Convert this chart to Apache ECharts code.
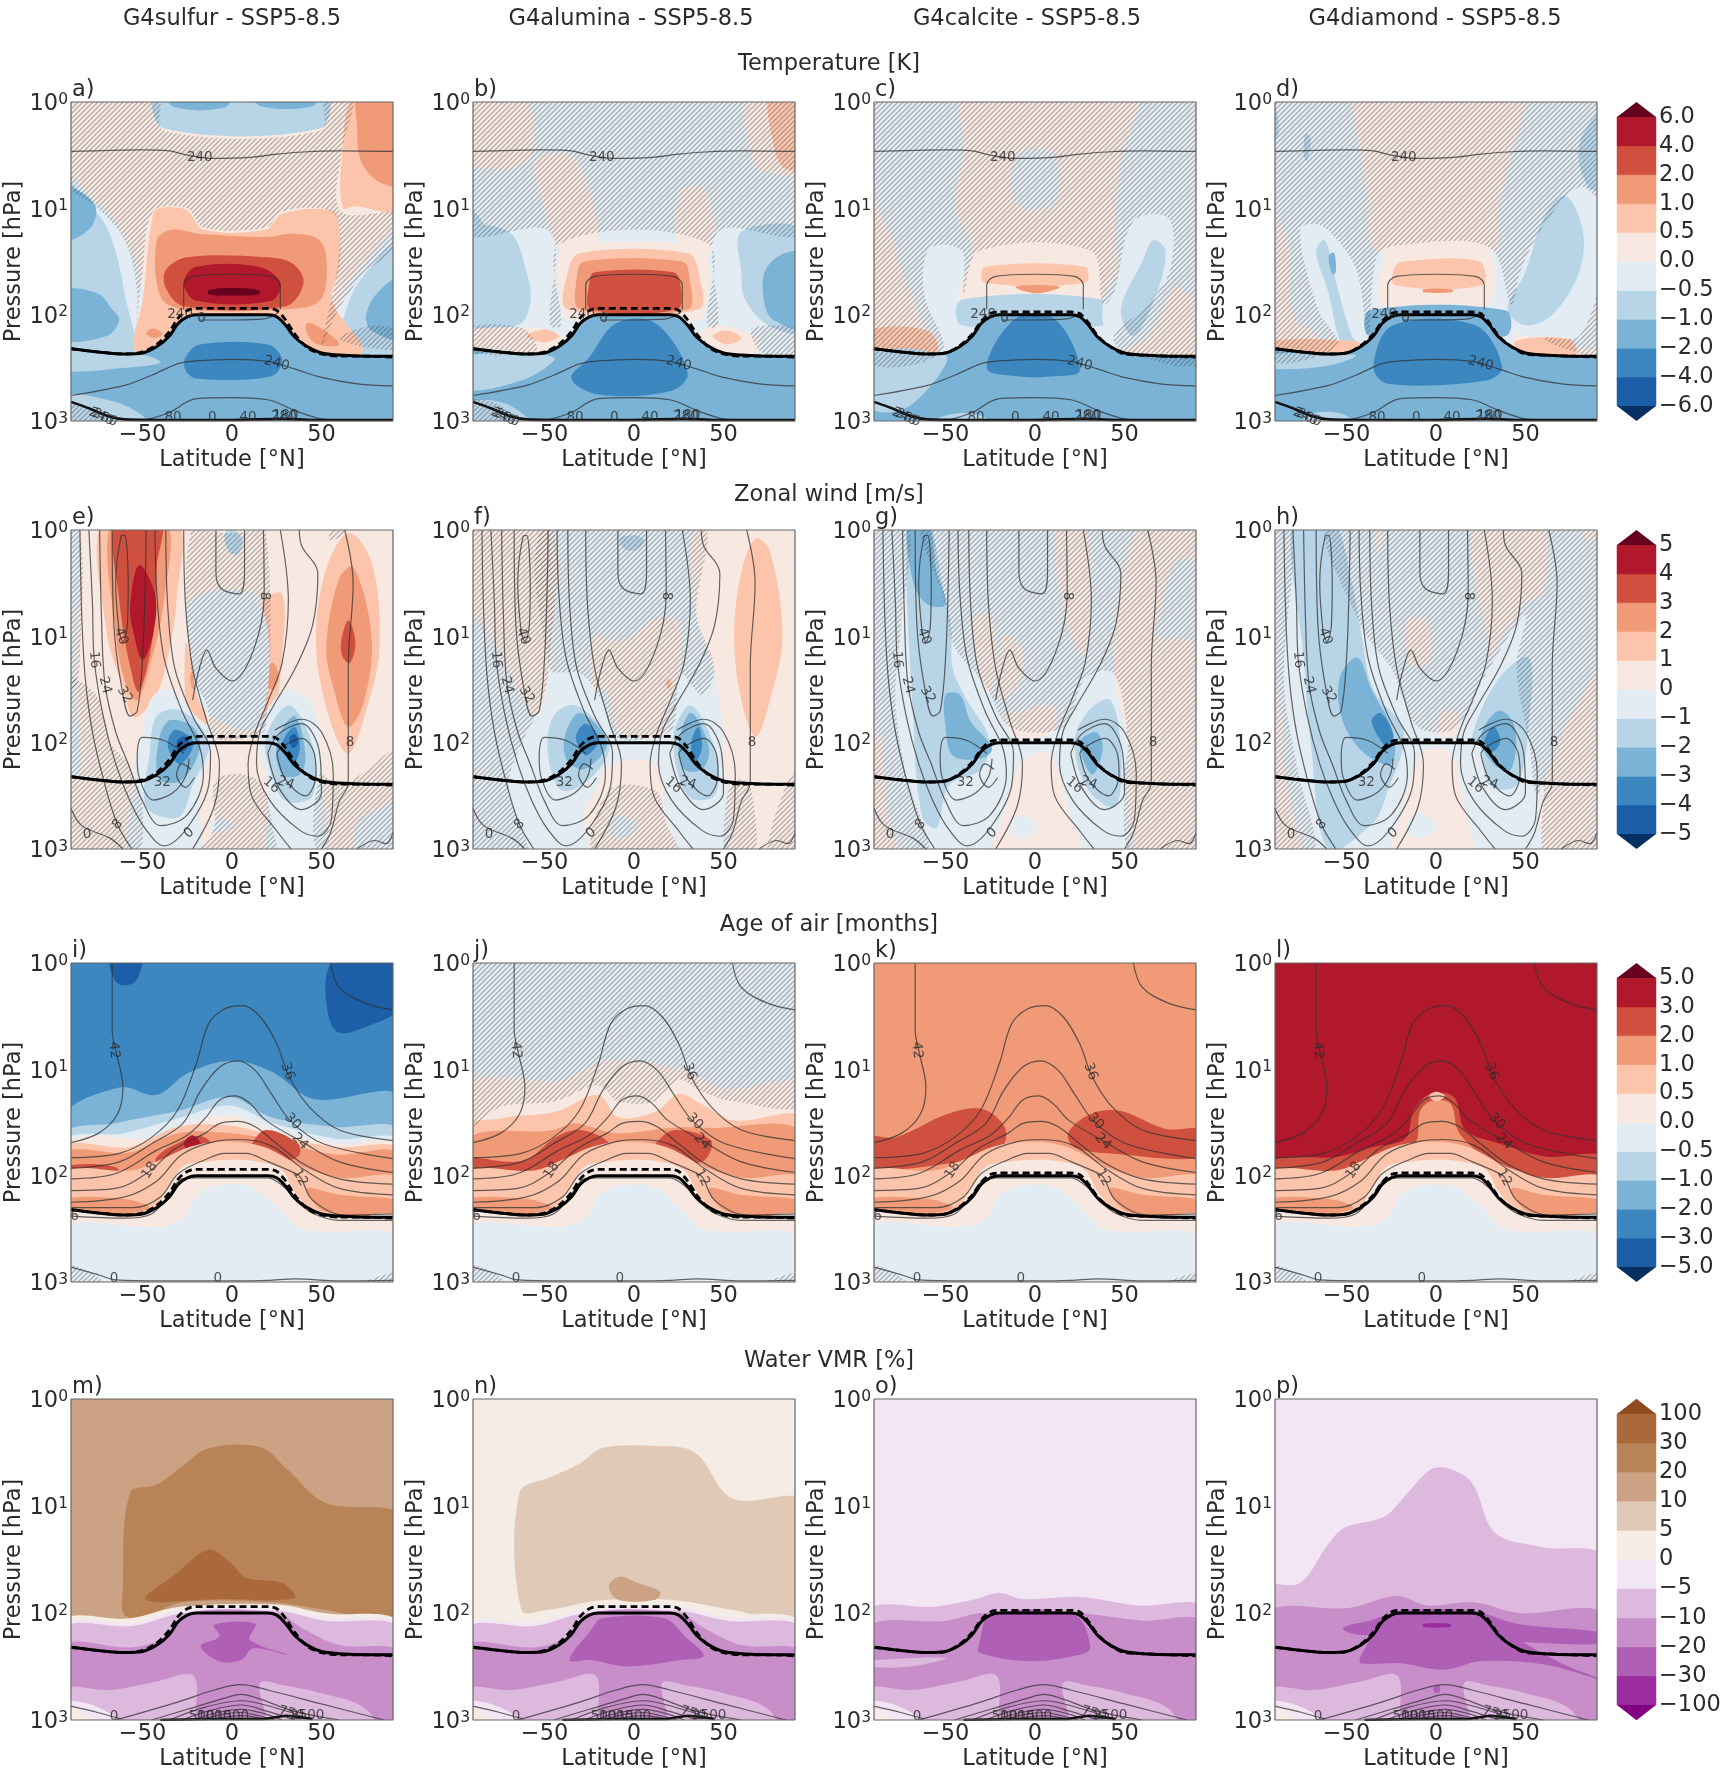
<!DOCTYPE html>
<html>
<head>
<meta charset="utf-8">
<style>html,body{margin:0;padding:0;background:#fff}#chart{width:1725px;height:1785px}</style>
<script src="https://cdn.jsdelivr.net/npm/echarts@6/dist/echarts.min.js"></script>
</head>
<body>
<div id="chart"></div>
<script>
// every outline below is a flat list: latitude, log10(pressure in hPa), latitude, log10(pressure) ...
const columnTitles = ['G4sulfur - SSP5-8.5', 'G4alumina - SSP5-8.5', 'G4calcite - SSP5-8.5', 'G4diamond - SSP5-8.5']
const rowTitles = ['Temperature [K]', 'Zonal wind [m/s]', 'Age of air [months]', 'Water VMR [%]']
const panelLetters = ['a)','b)','c)','d)','e)','f)','g)','h)','i)','j)','k)','l)','m)','n)','o)','p)']
const latTicks = [-50, 0, 50]
const pressureTicks = [1, 10, 100, 1000]

const redBlue = ['#1c5ea7','#3d87c0','#7ab3d6','#b8d5e8','#e3ecf2','#f7e9e2','#fcc5ab','#f09a77','#d0503f','#b2182b','#67001f','#053061']
const brownPurple = ['#9a2c9f','#b05fb6','#c88ec9','#deb9de','#f3e6f4','#f4ece5','#e0c9b6','#cba283','#b98358','#a9693a','#8f4b1e','#830083']
const tempTicks = ['−6.0','−4.0','−2.0','−1.0','−0.5','0.0','0.5','1.0','2.0','4.0','6.0']
const windTicks = ['−5','−4','−3','−2','−1','0','1','2','3','4','5']
const ageTicks = ['−5.0','−3.0','−2.0','−1.0','−0.5','0.0','0.5','1.0','2.0','3.0','5.0']
const waterTicks = ['−100','−30','−20','−10','−5','0','5','10','20','30','100']

const tropSolid = [-90,2.32,-75,2.35,-60,2.37,-50,2.36,-42,2.3,-35,2.2,-30,2.08,-25,2.02,-20,2,0,2,20,2,25,2.02,30,2.1,35,2.21,42,2.3,50,2.36,60,2.38,75,2.39,90,2.39]
const tropDashedHigh = [-90,2.32,-75,2.35,-60,2.37,-50,2.35,-42,2.28,-35,2.16,-30,2.03,-25,1.96,-20,1.94,0,1.94,20,1.94,25,1.96,30,2.05,35,2.18,42,2.31,50,2.37,60,2.39,75,2.39,90,2.4]
const tropDashedLow = [-90,2.32,-75,2.35,-60,2.37,-50,2.36,-42,2.29,-35,2.18,-30,2.06,-25,1.99,-20,1.975,0,1.975,20,1.975,25,1.99,30,2.08,35,2.2,42,2.3,50,2.37,60,2.38,75,2.39,90,2.4]
const below = [95,2.39,95,3.2,-95,3.2,-95,2.32]
const troposphere = tropSolid.concat(below)

// ---- temperature ----
const fillA = [
 [3,[-42,-.1,52,-.1,49,.25,-38,.25]],[2,[-38,-.1,0,-.1,-4,.05,-32,.05]],[2,[12,-.1,49,-.1,45,.04,16,.04]],
 [6,[69,-.1,95,-.1,95,1,68,.98,62,1.0,61,.6]],[7,[71,-.1,95,-.1,95,.77,82,.75,72,.55,70,.25]],
 [4,[-95,.7,-75,.95,-62,1.2,-52,1.6,-48,2,-45,2.4,-95,2.4]],[3,[-95,.75,-75,1.05,-67,1.3,-60,1.8,-56,2.4,-95,2.4]],[2,[-95,.8,-84,.85,-76,1,-80,1.2,-95,1.3]],[2,[-95,1.78,-75,1.8,-67,1.95,-63,2.05,-70,2.2,-95,2.22]],
 [4,[95,1.2,70,1.6,58,2,55,2.4,95,2.4]],[3,[95,1.3,75,1.6,65,1.9,60,2.4,95,2.4]],[2,[95,1.65,82,1.78,75,2,78,2.15,95,2.22]],
 [6,[-44,1.05,-38,.99,-25,1.02,-16,1.2,19,1.2,28,1.05,56,1.02,60,1.18,60,1.55,56,1.87,73,2.35,45,2.35,0,2.2,-45,2.35,-55,2.32,-50,1.87]],
 [7,[-42,1.3,-33,1.2,-18,1.24,19,1.27,34,1.24,49,1.3,53,1.55,49,1.87,30,1.95,-27,1.95,-40,1.83]],
 [8,[-37,1.58,-25,1.46,19,1.46,34,1.52,40,1.7,30,1.92,-27,1.92,-37,1.75]],
 [9,[-27,1.7,-20,1.55,15,1.55,27,1.7,22,1.87,-20,1.87]],[10,[-13,1.77,0,1.75,15,1.77,15,1.81,0,1.82,-13,1.81]],
 [7,[-48,2.18,-44,2.13,-39,2.18,-43,2.22]],[7,[42,2.08,50,2.13,60,2.28,48,2.28,42,2.18]],
 [2,troposphere],[3,[-95,2.35,-50,2.38,-40,2.45,-60,2.5,-95,2.52]],[3,[-95,2.78,-70,2.8,-50,2.95,-40,3.2,-95,3.2]],
 [1,[-26,2.4,-18,2.28,20,2.28,28,2.42,22,2.58,-20,2.6,-26,2.52]]
]
const hatchA = [[-95,-.1,-42,-.1,-38,.27,49,.27,52,-.1,68,-.1,61,.5,61,1.03,95,1.05,95,1.3,72,1.65,58,2,50,2.3,59,1.55,59,1.1,50,1,28,1.03,19,1.18,-16,1.18,-25,1,-44,1.03,-50,1.6,-55,2.3,-53,1.8,-60,1.3,-75,1,-95,.72],[60,2.22,73,2.3,95,2.32,95,2.18,80,2.1],[-95,2.82,-80,2.88,-70,3.1,-95,3.1]]
const fillB = [
 [5,[-95,-.1,-62,-.1,-59,.55,-95,.55]],[5,[-55,.55,-35,.5,-22,1,-22,1.4,-40,1.4,-50,1]],[5,[26,.83,40,.83,44,1.4,26,1.4]],[5,[63,-.1,95,-.1,95,.65,72,.65,66,.55]],[6,[76,-.1,95,-.1,95,.6,84,.62,78,.4]],
 [3,[-95,.95,-88,1.05,-82,1.25,-95,1.25]],
 [3,[-95,1.22,-70,1.22,-60,1.6,-58,1.9,-65,2.1,-95,2.07]],
 [5,[-95,2.17,-60,2.12,-48,2.14,-38,2.25,-42,2.4,-95,2.4]],[6,[-60,2.2,-50,2.14,-42,2.2,-50,2.26]],
 [4,[46,1.22,95,1.22,95,2.15,58,2.05,50,1.9,46,1.6]],[3,[60,1.22,95,1.22,95,2.15,75,2.1,62,1.85,60,1.6]],[2,[73,1.6,83,1.43,95,1.43,95,2.12,78,2.05,73,1.9]],
 [5,[36,2.2,45,2.1,60,2.15,70,2.25,65,2.4,40,2.4]],[6,[44,2.2,52,2.15,60,2.22,52,2.28]],
 [5,[-41,1.4,-30,1.33,32,1.33,40,1.42,42,1.8,36,2.05,-36,2.05,-42,1.8]],[6,[-37,1.6,-30,1.42,30,1.42,36,1.6,36,1.95,-37,1.95]],[7,[-32,1.65,-28,1.5,27,1.5,31,1.65,30,1.95,-30,1.95]],[8,[-25,1.7,-22,1.6,22,1.6,26,1.72,24,1.95,-24,1.95]],
 [2,troposphere],[3,[-95,2.4,-45,2.4,-60,2.6,-95,2.7]],[3,[-95,2.85,-70,2.85,-50,3.2,-95,3.2]],
 [1,[-10,2.08,12,2.08,30,2.55,20,2.72,-20,2.75,-35,2.6,-25,2.4]]
]
const hatchB = [[-95,-.1,95,-.1,95,1.22,47,1.22,47,2.1,41,2.1,41,1.33,-41,1.33,-41,2.1,-47,2.1,-47,1.22,-95,1.22],[-95,2.13,-62,2.13,-55,2.34,-95,2.34],[66,2.13,95,2.15,95,2.36,72,2.36],[-95,2.82,-75,2.85,-65,3.1,-95,3.1]]
const fillC = [
 [5,[-38,-.1,55,-.1,48,.55,45,1,40,1.9,-41,1.9,-35,1.35,-45,1,-40,.5]],[4,[-10,.5,11,.5,11,.96,-10,.96]],
 [5,[-95,.85,-82,1.2,-72,1.7,-65,2,-60,2.3,-95,2.4]],[5,[55,1.9,70,1.7,95,1.95,95,2.4,52,2.4]],[6,[-95,2.15,-60,2.15,-55,2.35,-95,2.35]],
 [4,[-59,1.4,-50,1.4,-45,1.8,-41,2.2,-47,2.3,-55,2.1,-59,1.7]],
 [5,[-30,1.45,30,1.45,30,1.97,-30,1.97]],[6,[-28,1.55,28,1.55,28,1.7,-28,1.7]],[7,[-11,1.74,1,1.72,14,1.74,1,1.8]],
 [3,[-41,1.86,38,1.86,38,2.1,-41,2.1]],
 [4,[38,1.9,55,1.35,58,1.12,75,1.12,78,1.6,70,2,60,2.25,44,2.3]],[3,[48,1.95,60,1.5,66,1.3,73,1.4,68,1.8,55,2.2]],
 [2,troposphere],[3,[-95,2.38,-50,2.38,-55,2.6,-75,2.9,-95,2.85]],[3,[-55,2.98,-30,2.95,-20,3.2,-60,3.2]],
 [1,[-11,2.04,11,2.04,25,2.52,10,2.58,-10,2.58,-27,2.5]]
]
const hatchC = [[-95,-.1,95,-.1,95,2.4,50,2.35,44,2.2,60,1.95,75,1.6,75,1.1,55,1.12,44,1.8,38,1.9,31,1.4,-31,1.4,-40,1.8,-41,1.4,-59,1.38,-62,1.8,-52,2.35,-95,2.4]]
const fillD = [
 [5,[-43,-.1,47,-.1,42,.5,35,1,32,1.4,-33,1.4,-38,.9,-42,.5]],[5,[-95,1.05,-83,1.3,-80,2,-60,2.3,-95,2.4]],[5,[42,1.95,50,1.6,60,2.2,95,2.35,50,2.35]],
 [3,[-95,0,-91,0,-88,.3,-95,.4]],[3,[-73,.3,-70,.35,-72,.55,-74,.5]],[3,[80,.4,95,.05,95,.8,85,.8]],
 [4,[-75,1.2,-65,1.15,-52,1.4,-44,1.7,-38,2.3,-55,2.25,-65,1.9]],[3,[-67,1.4,-62,1.3,-55,1.75,-47,2.2,-42,2.3,-52,2.3,-60,1.8]],[2,[-60,1.45,-57,1.42,-56,1.6,-58,1.62]],
 [4,[32,2.05,48,1.6,62,1.2,80,.85,92,1.4,95,2.1,80,2.2,60,2.2,50,2.2]],[3,[40,1.95,50,1.6,60,1.1,72,.88,82,1.2,80,1.6,65,2,50,2.1]],
 [5,[-29,1.45,-22,1.37,28,1.37,28,1.93,-29,1.93]],[6,[-23,1.55,-18,1.5,24,1.5,26,1.72,-23,1.72]],[7,[-7,1.76,9,1.76,9,1.79,-7,1.79]],
 [6,[-95,2.25,-45,2.25,-40,2.33,-95,2.35]],[6,[44,2.25,75,2.23,78,2.38,50,2.38]],
 [2,[-37,1.96,39,1.96,39,2.2,-37,2.2]],
 [2,troposphere],[3,[-95,2.38,-45,2.38,-60,2.48,-95,2.5]],[3,[-72,2.95,-50,2.95,-42,3.2,-75,3.2]],
 [1,[-24,2.1,22,2.1,37,2.49,28,2.62,-27,2.65,-35,2.49]]
]
const hatchD = [[-95,-.1,95,-.1,95,1,90,.9,80,.8,62,1.12,48,1.55,42,1.9,30,1.37,-22,1.35,-33,1.45,-38,2.2,-44,1.6,-55,1.3,-66,1.15,-76,1.2,-66,1.95,-55,2.3,-95,2.38],[60,2.22,78,2.35,95,2.38,95,1.6,80,2.2]]

// ---- zonal wind ----
const fillE = [
 [4,[-95,0,-85,0,-88,1.4,-85,2.3,-95,2.3]],
 [6,[-72,-.1,-31,-.1,-31,.66,-37,1.28,-44,1.6,-55,1.76,-61,1.47,-70,.97]],[7,[-67,-.1,-37,-.1,-38,.66,-46,1.28,-53,1.6,-59,1.47,-65,.97]],[8,[-65,-.1,-40,-.1,-42,.34,-44,.97,-52,1.52,-57,1.28,-63,.66]],[9,[-57,.72,-52,.33,-43,.6,-44,.97,-50,1.22,-55,.97]],
 [6,[-26,1.05,-22,1.3,-14,1.85,-24,1.85]],[7,[-23,1.35,-19,1.35,-18,1.49,-22,1.49]],
 [6,[17,.7,28,.6,28,1.2,22,1.9,17,1.9]],[7,[19,1.32,23,1.25,26,1.38,23,1.5,19,1.45]],
 [6,[47,1.1,52,.4,65,.03,78,.3,82.5,1.1,75,1.7,65,2.1,55,1.8]],[7,[52.7,1.1,60,.45,68,.35,78,1,74,1.6,65,1.85,57,1.5]],[8,[61,1.05,65,.85,69,1.05,66,1.25,62,1.2]],
 [3,[-4,.03,1,0,6,.1,3,.23,-2,.2]],
 [4,[-23,.65,15,.65,15,1.85,-15,1.7,-23,1.1]],
 [4,[-55,2.35,-50,1.9,-45,1.58,-35,1.5,-20,1.75,-10,1.95,-18,2.4,-20,3.2,-55,3.2]],[3,[-46,2.1,-42,1.75,-28,1.7,-13,2,-22,2.4,-30,2.7,-48,2.6]],[2,[-42,2.1,-36,1.8,-22,1.85,-18,2.05,-28,2.35,-40,2.35]],[1,[-36,2.02,-32,1.88,-22,1.98,-24,2.12,-30,2.2]],[0,[-31,2,-27,1.94,-24,2,-27,2.08]],
 [4,[15,1.9,30,1.5,45,1.65,50,2.3,50,3.2,22,3.2,20,2.4]],[3,[19,1.95,32,1.65,45,2.02,45,2.5,30,2.55,22,2.3]],[2,[25,2,35,1.75,41,2.1,38,2.3,28,2.3]],[1,[28.5,2,35,1.85,38,2.05,34,2.2]],[0,[32,1.96,35,1.92,37,2,34,2.05]],
 [4,[-12.5,2.75,-6,2.72,.5,2.78,-5,2.84,-12,2.82]],
 [4,[70,2.75,85,2.6,95,2.5,95,3.2,72,3.2]]
]
const hatchE = [[-95,0,-85,0,-85,1.2,-88,1.5,-95,1.4],[-95,1.4,-76,1.55,-68,2,-58,2.2,-50,2.6,-55,3.1,-95,3.1],[-23,.03,-4,.03,6,.02,19,.03,19,1.85,10,1.95,-10,1.95,-14,1.65,-23,1.3],[-9,2.35,14,2.35,24,2.9,24,3.1,-20,3.1,-10,2.8],[49,2.3,60,2.4,72,2.3,95,2.05,95,3.1,50,3.1],[55,0,60,-.1,65,0,55,.1]]
const fillF = [
 [5,[-95,-.1,-48,-.1,-47,1.2,-53,1.75,-62,1.6,-80,1,-95,.6]],[5,[-95,2.3,-75,2.35,-65,2.7,-60,3.2,-95,3.2]],
 [5,[37,-.1,95,-.1,95,3.2,52,3.2,50,2,45,1.35,35,.8]],[5,[-22,1,-6,1.05,10,.85,24,.85,26,1.3,22,1.9,-8,1.9,-15,1.5,-23,1.5]],
 [5,[-35,2.5,-12,2.2,12,2.2,18,2.7,25,3.2,-22,3.2]],
 [6,[56,1,60,.4,68,.08,76,.2,83,1,76,1.6,68,1.94,60,1.6]],[6,[18,1.42,20,1.4,21,1.45,19,1.5]],
 [3,[-8,.08,0,.05,6,.1,1,.19,-6,.17]],
 [4,[-55,2.2,-52,1.7,-37,1.35,-25,1.6,-14,1.88,-20,2.4,-28,2.65,-25,3.2,-55,3.2,-85,3.2,-95,2.3,-80,2.3]],
 [3,[-48,2.12,-45,1.75,-32,1.65,-14,2,-22,2.3,-40,2.45]],[2,[-38,1.9,-30,1.72,-15,2,-28,2.25,-38,2.15]],[1,[-32.5,1.95,-27,1.82,-19.6,1.97,-27,2.12]],
 [4,[17,1.9,28,1.35,38,1.6,50,2.2,50,3.2,28,3.1,18,2.5]],[3,[22,1.95,32,1.65,46,2.1,45,2.5,30,2.5]],[2,[25,2,32,1.72,42,2.05,38,2.25,28,2.25]],[1,[32,2,36,1.85,38,2.05,34,2.18]],
 [4,[-14,2.75,-8,2.68,2,2.78,-3,2.88,-12,2.88]]
]
const hatchF = [[-95,-.1,-48,-.1,-47,1.2,-53,1.7,-60,1.9,-70,2.4,-60,3.1,-95,3.1],[-48,-.1,37,-.1,35,.8,45,1.3,38,1.55,26,1.35,22,1.85,10,1.95,-10,1.95,-18,1.6,-30,1.35,-47,1.3],[-14,2.45,12,2.45,18,2.75,25,3.1,-22,3.1],[52,2.5,58,2.35,65,2.4,67,3.1,52,3.1],[85,2.4,95,2.2,95,3.1,75,3.1]]
const fillG = [
 [5,[-38,.9,-25,.8,-22,1.3,-25,1.5,-38,1.5]],[5,[12,0,28,.0,32,.5,30,1,28,1.2,18,.9]],[5,[-18,1,-8,1.1,-8,1.4,-20,1.6]],[5,[48,.5,62,-.1,95,-.1,95,.25,78,.3,70,.8,68,1,95,1.1,95,3.2,55,3.2,52,2,44,1.35]],
 [5,[-95,1.9,-85,2,-75,2.8,-72,3.2,-95,3.2]],[5,[-8,2.2,8,2.1,20,2.7,30,3.2,-25,3.2,-18,2.7]],[5,[-18,1.75,-8,1.7,10,1.65,10,1.9,-12,1.95]],
 [4,[-88,-.1,-72,-.1,-38,.3,-35,.9,-28,1.5,-14,1.9,-25,2.4,-35,3.2,-65,3.2,-82,2.7,-84,1.3]],
 [3,[-71,-.1,-60,-.1,-52,.5,-47,.9,-46,1.3,-38,1.6,-26,1.95,-30,2.25,-48,2.4,-55,2.8,-63,2.7,-68,1.8]],
 [2,[-71,-.1,-60,-.1,-55,.4,-50,.7,-60,.7,-68,.5]],[2,[-50,1.55,-42,1.55,-36,1.8,-24,2.05,-30,2.15,-46,2.12,-50,1.85]],
 [4,[16,1.9,28,1.4,40,1.35,50,2.1,50,2.5,55,3.2,30,3.1,20,2.4]],[3,[22,2,30,1.7,42,1.6,48,2.05,45,2.6,30,2.45]],[2,[25,2,34,1.9,38,2.05,32,2.3]],
 [4,[-14,2.75,-8,2.68,2,2.78,-3,2.88,-12,2.88]]
]
const hatchG = [[-95,-.1,-71,-.1,-75,.9,-78,1.6,-72,2.3,-60,3.1,-95,3.1],[-60,-.1,95,-.1,95,3.1,55,3.1,50,2.3,52,2,44,1.35,28,1.4,16,1.85,-14,1.85,-28,1.45,-45,1.1,-50,.7]]
const fillH = [
 [5,[-40,0,-30,0,-32,.2,-40,.2]],[5,[22,.0,45,-.1,60,-.1,60,.6,48,.7,42,1.1,30,1.5,28,1,22,.5]],[5,[-16,.85,-5,.85,-4,1.25,-15,1.25]],[5,[-18,1.75,-10,1.7,-10,1.95,-18,1.95]],[5,[2,1.75,12,1.7,12,1.9,2,1.95]],
 [5,[80,-.1,95,-.1,95,.05,85,.1]],[5,[-95,1.5,-85,1.6,-78,2.5,-62,3.2,-95,3.2]],[5,[-8,2.1,8,2.1,20,2.7,30,3.2,-30,3.2,-20,2.7]],[5,[62,2.3,95,1.3,95,3.2,62,3.2]],
 [4,[-92,-.1,-40,-.1,-33,.4,-42,.9,-24,1.3,-14,1.6,-8,1.9,-25,2.4,-28,3.2,-65,3.2,-82,2.5,-88,1.4]],
 [3,[-80,-.1,-58,-.1,-47,.5,-42,.95,-35,1.5,-18,1.9,-28,2.5,-35,2.75,-60,3,-70,2,-74,1.2]],
 [2,[-54,1.4,-44,1.2,-36,1.5,-24,1.9,-25,2.2,-40,2.1,-52,1.8]],[1,[-36,1.8,-31,1.72,-24,1.92,-27,2.05]],
 [4,[12,1.9,22,1.6,30,1.2,48,.8,46,1.4,52,2.2,56,2.6,58,3.2,30,3.2,15,2.5]],[3,[20,1.95,35,1.4,52,1.2,52,1.8,45,2.4,30,2.4,25,2.05]],[2,[25,1.95,35,1.7,44,1.85,42,2.25,32,2.2]],[1,[27,2,32,1.85,36,1.98,32,2.08]],
 [4,[-16,2.75,-8,2.66,1,2.8,-5,2.88,-14,2.88]]
]
const hatchH = [[-95,-.1,-80,-.1,-85,1.4,-78,2.2,-68,3.1,-95,3.1],[-58,-.1,95,-.1,95,3.1,62,3.1,60,2.4,56,2.5,52,2,45,1.3,50,.8,28,1.35,12,1.85,-10,1.85,-25,1.3,-42,.9]]

// ---- age of air ----
const ageUpperI = [
 [0,[-68,-.1,-51,-.1,-53,.15,-60,.21,-66,.15]],[0,[54,.04,65,-.1,95,-.1,95,.4,75,.6,59,.65,53,.41]],
 [2,[-95,1.48,-63,1.17,-42,1.24,-25,1.04,-1,.92,22,1.02,46,1.28,95,1.28,95,3.2,-95,3.2]],
 [3,[-95,1.64,-63,1.5,-30,1.39,-1,1.26,22,1.45,57,1.54,95,1.6,95,3.2,-95,3.2]],
 [4,[-95,1.7,-60,1.6,-30,1.46,-1,1.34,22,1.5,57,1.65,95,1.7,95,3.2,-95,3.2]],
 [5,[-95,1.73,-42,1.64,-22,1.5,-1,1.43,22,1.57,60,1.7,95,1.73,95,3.2,-95,3.2]],
 [6,[-95,1.76,-57,1.73,-30,1.54,-1,1.53,19,1.6,57,1.73,95,1.78,95,3.2,-95,3.2]],
 [7,[-95,1.82,-57,1.78,-30,1.6,-1,1.6,19,1.65,57,1.8,95,1.82,95,3.2,-95,3.2]],
 [8,[-95,1.92,-65,1.92,-64,2.06,-95,2.06]],[8,[-42,1.82,-31,1.7,-17,1.63,-10,1.76,-22,1.87,-42,1.9]],[8,[10,1.73,19,1.57,37,1.7,37,1.82,22,1.87,10,1.82]],[9,[-27,1.7,-22,1.62,-17,1.72,-22,1.8]]
]
const ageUpperJ = [
 [5,[-95,1.18,-40,1.1,-14,.92,27,1.0,50,1.18,95,1.18,95,3.2,-95,3.2]],
 [6,[-95,1.57,-74,1.46,-44,1.4,-20,1.24,-9,1.45,12,1.4,25,1.23,37,1.32,55,1.48,95,1.48,95,3.2,-95,3.2]],
 [7,[-95,1.7,-45,1.57,-33,1.51,-10,1.6,22,1.55,40,1.55,95,1.62,95,3.2,-95,3.2]],
 [8,[-95,1.84,-62,1.86,-44,1.64,-30,1.57,-14,1.7,-24,1.86,-62,1.98,-95,2.01]],[8,[12,1.7,23,1.57,43,1.67,39,1.86,23,1.88,12,1.8]]
]
const ageUpperK = [
 [8,[-95,1.64,-78,1.64,-49,1.42,-30,1.37,-17,1.54,-18.5,1.73,-39,1.86,-95,1.92]],[8,[18.5,1.6,31,1.42,47.5,1.39,73,1.56,95,1.57,95,1.82,41,1.79,22,1.73]]
]
const ageUpperL = [
 [8,[-95,1.92,-54,1.82,-35,1.73,-17,1.65,-12.6,1.39,-3,1.23,10,1.26,16.5,1.57,36,1.7,61,1.82,95,1.86,95,3.2,-95,3.2]],
 [7,[-40,1.95,-12,1.7,-9,1.4,-3,1.3,8,1.32,13,1.6,30,1.85,50,2.0,-20,2.2]],[6,[-4,1.25,0,1.21,5,1.25,0,1.3]]
]
const ageLower = [
 [6,[-95,2,-55,1.95,-40,1.85,-22,1.72,0,1.68,18,1.73,40,1.92,60,2.02,95,2.05,95,3.2,-95,3.2]],
 [7,[-95,2.22,-60,2.22,-46,2.3,-60,2.36,-95,2.34]],[7,[42,2.12,60,2.18,95,2.24,95,2.36,52,2.34]],
 [5,[-95,2.38,-60,2.39,-45,2.33,-35,2.1,-28,1.92,-15,1.87,0,1.85,15,1.87,28,1.95,35,2.15,45,2.33,60,2.4,95,2.4,95,3.2,-95,3.2]],
 [4,[-95,2.5,-40,2.48,-27,2.39,-19,2.17,-10,2.1,10,2.1,25,2.29,40,2.51,95,2.58,95,3.2,-95,3.2]]
]
const fillI = ageUpperI.concat(ageLower)
const fillJ = ageUpperJ.concat(ageLower)
const fillK = ageUpperK.concat(ageLower)
const fillL = ageUpperL.concat(ageLower)
const hatchAgeBottom = [[-95,2.85,-80,2.9,-68,3.1,-95,3.1],[62,3.1,80,2.96,95,2.92,95,3.1]]
const hatchJ = hatchAgeBottom.concat([[-95,-.1,95,-.1,95,1.3,55,1.3,37,1.2,25,1.1,12,1.3,-9,1.3,-20,1.15,-44,1.3,-74,1.35,-95,1.55]])

// ---- water vapour ----
const waterBottom = [
 [3,[-95,2.72,-68,2.72,-42,2.64,-22,2.58,-20,2.85,-25,3.2,-95,3.2]],
 [3,[16,2.65,30,2.68,50,2.75,75,2.9,82,3.2,25,3.2,18,2.9]],
 [4,[-95,2.84,-70,2.92,-55,3.2,-95,3.2]],[5,[-95,2.88,-82,2.95,-72,3.2,-95,3.2]]
]
const waterBand = [
 [5,[-95,2.09,-57,2.05,-28,1.94,25,1.92,51,2,95,2.11,95,3.2,-95,3.2]],
 [4,[-95,2.13,-55,2.09,-27,1.97,25,1.95,51,2.04,95,2.13,95,3.2,-95,3.2]],
 [3,[-95,2.16,-55,2.12,-27,2,25,1.98,51,2.07,95,2.16,95,3.2,-95,3.2]],
 [2,[-95,2.32,-55,2.32,-35,2.2,-25,2,25,2,40,2.15,60,2.3,95,2.38,95,3.2,-95,3.2]]
]
const fillM = [
 [8,[-60,2.02,-61,1.75,-57,.88,-42,.8,-28,.63,-13,.46,16,.45,31,.66,52,.97,95,1.1,95,2.05,52,1.97,22,1.9,-28,1.9,-48,2.03]],
 [9,[-48,1.875,-31,1.63,-13,1.41,-1,1.53,8,1.67,28,1.72,35,1.86,-7,1.87]]
].concat(waterBand,[[1,[-10,2.11,13,2.1,10,2.25,31,2.39,12,2.33,5,2.44,-7,2.45,-17.5,2.31,-7,2.22]]],waterBottom)
const fillN = [
 [6,[-63,1.97,-64,.88,-45,.72,-30,.6,-18,.46,11,.44,34,.5,55,.93,95,.96,95,2.06,55,1.97,23,1.88,-18,1.88,-48,1.97]],
 [7,[-14,1.75,-8,1.66,2,1.72,14.5,1.8,12,1.875,-9,1.875]]
].concat(waterBand,[[1,[-36,2.44,-24,2.16,-18,2.05,17,2.05,28.5,2.22,39,2.4,26,2.44,-4,2.5,-24,2.44]]],waterBottom)
const fillO = [
 [3,[-95,2,-55,1.94,-33,1.87,-20,1.81,-7,1.87,25,1.85,57,1.93,95,1.97,95,3.2,-95,3.2]],
 [2,[-95,2.16,-49,2.07,-30,2,22,2,60,2.07,95,2.1,95,3.2,-95,3.2]],
 [1,[-31,2.28,-25,2.02,22,2.02,31,2.32,25,2.39,-4,2.45,-31,2.37]],
 [3,[-95,2.5,-70,2.5,-50,2.42,-95,2.45]]
].concat(waterBottom)
const fillP = [
 [3,[-95,1.77,-76,1.72,-60,1.35,-51,1.2,-29,1.1,-16,.88,-3,.66,7,.65,20,.78,33,1.25,58,1.38,95,1.5,95,3.2,-95,3.2]],
 [2,[-95,2.02,-48,1.95,-22,1.84,-5,1.93,21,1.9,46,2,95,2.03,95,3.2,-95,3.2]],
 [1,[-52,2.14,-35,2.06,-20,1.98,20,1.98,45,2.1,95,2.19,95,2.28,60,2.28,-20,2.2,-45,2.2]],
 [1,[-42,2.4,-28,2.1,21,2.02,43,2.22,70,2.47,95,2.64,60,2.48,25,2.45,4,2.53,-20,2.47,-42,2.47]],
 [0,[-7,2.1,8,2.1,8,2.13,-7,2.13]],[1,[-1,2.68,2,2.68,2,2.74,-1,2.74]]
].concat(waterBottom)

// contours, same climatology in every column of a row
const tempContours = [
 [-90,.465,-50,.45,-35,.46,-25,.5,-10,.53,10,.52,25,.49,40,.47,60,.46,90,.465],
 [-90,2.76,-60,2.665,-45,2.57,-30,2.46,-20,2.435,0,2.42,20,2.44,35,2.51,50,2.59,70,2.65,90,2.67],
 [-47,2.985,-35,2.92,-20,2.79,0,2.78,20,2.8,35,2.9,50,2.98,60,2.99],
 [-27,1.95,-27,1.72,-22,1.64,0,1.62,22,1.64,27,1.72,27,1.95],
 [-18,2.05,0,2.05,18,2.04,26,1.98]
]
const tempThick = [-90,2.82,-80,2.88,-70,2.95,-60,2.985,-40,2.99,0,2.99,28,2.98,45,2.99,90,2.99]
const windContours = [
 [-90,2.62,-84,2.78,-68,2.9,-61,3],
 [-85,0,-84,.8,-82,1.4,-78,1.9,-71,2.4,-64,2.77,-56,3],
 [-80,0,-78,.7,-77,1.22,-72,1.75,-65,2.2,-57,2.55,-48,2.82,-38,2.97,-25,2.8,-13,2.4,-12,2.1,-22,1.75,-32,1.3,-36,.7,-37,0],
 [-74,0,-73,.8,-71,1.45,-65,1.9,-58,2.2,-50,2.55,-40,2.78,-25,2.68,-16,2.3,-18,2.05,-28,1.7,-38,1.2,-42,.6,-43,0],
 [-67,0,-66,.9,-62,1.45,-57,1.75,-53,1.7,-50,1.2,-48.5,.5,-48,0],
 [-63,.97,-65,.5,-62,.06,-60,.05,-58,.5,-58.5,.9,-61,1.05,-63,.97],
 [-27,2.1,-38,1.98,-50,1.95,-53,2.15,-52,2.32,-44,2.54,-33,2.47,-26,2.32,-24,2.15],
 [-23,2.25,-28,2.2,-31,2.3,-26,2.42,-21,2.33],
 [-27,0,-26,.7,-22,1.3,-14,1.8,-7,2.2,-10,2.6,-22,3],
 [-9,0,-9,.4,-6,.55,4,.6,7,.4,7,0],
 [17.6,0,18,.6,12,1.13,0,1.42,-9,1.3,-14,1.13,-19,1.35,-22,1.6],
 [27,0,31.5,.66,28,1.25,20.4,1.6,13,1.9,9,2.2,11,2.5,25.5,2.84,33,3],
 [37.6,0,39,.15,48,.41,45,.9,36,1.28,23,1.66,15.6,1.9,13.7,2.2,21,2.54,37.6,2.82,48,2.88,55.6,2.72,56.6,2.29,50,1.9,39,1.78,24,1.88],
 [20,2.1,26,2.42,39,2.63,50,2.47,49,2.1,39,1.82,26,1.92,20,2.1],
 [25,2.1,30,2.35,41,2.5,47,2.3,46,2.1,39,1.96,28,2.04,25,2.1],
 [63,0,67.7,.5,65,1.28,65,1.9,65,2.38,60,2.55,55,2.85,50,3],
 [70,3,80,2.92,86,2.95,90,2.85]
]
const ageContours = [
 [-67,0,-67,.63,-65,.82,-61,1.17,-64,1.42,-74.5,1.6,-90,1.69],
 [55,0,60,.23,75,.38,90,.44],
 [-90,1.83,-63,1.79,-45,1.64,-30.6,1.39,-20,.95,-13,.57,-4,.43,6,.4,16,.51,25,.76,32,1.07,43,1.35,60,1.57,90,1.67],
 [-90,1.93,-63,1.87,-45,1.7,-27.6,1.51,-17.5,1.2,-7,.98,3,.92,13,1.01,22,1.23,33,1.49,51,1.7,90,1.84],
 [-90,2.03,-65,1.98,-42,1.76,-25,1.62,-14.5,1.45,-7,1.29,2,1.25,10,1.32,19,1.48,39,1.68,60,1.87,90,1.97],
 [-90,2.14,-65,2.12,-47,1.97,-32,1.75,-15,1.6,-7,1.51,3,1.49,13,1.54,25,1.7,40,1.89,60,2.03,90,2.08],
 [-90,2.25,-60,2.2,-42,2.05,-28,1.8,-10,1.68,4,1.66,22,1.72,40,1.94,60,2.12,90,2.18],
 [-90,2.3,-55,2.3,-40,2.2,-30,1.98,-15,1.85,-4,1.79,8,1.79,19,1.86,33,1.96,38,2.01,45,2.23,63,2.37,90,2.36],
 [-90,2.38,-60,2.4,-45,2.36,-36,2.2,-28,2.03,-20,2.02,20,2.02,30,2.12,36,2.24,46,2.36,60,2.42,90,2.42],
 [-90,2.86,-75,2.93,-65,2.98,-40,2.99,0,2.99,20,2.985,35,2.97,60,2.99,90,2.985]
]
const waterContours = [
 [-90,2.87,-75,2.93,-62,2.99],
 [-65,3,-30,2.83,-10,2.72,5,2.67,20,2.72,50,2.85,85,3],
 [-45,3,-25,2.9,-5,2.8,5,2.76,15,2.8,35,2.92,60,3],
 [-35,3,-15,2.88,5,2.82,25,2.89,45,3],
 [-28,3,-12,2.91,5,2.86,20,2.92,35,3],
 [-22,3,-8,2.93,5,2.9,18,2.94,28,3],
 [-18,3,-6,2.95,5,2.93,15,2.96,24,3],
 [-14,3,-3,2.97,5,2.96,12,2.97,20,3]
]
const waterThick = [-40,3,-12,2.99,0,2.99,18,2.99,30,2.96,45,2.99]
// label, lat, log10(p), rotation
const tempLabels = [['240',-18,.52,0],['240',25,2.46,-15],['0',-17,2.04,0],['240',-29,2,0],['240',-73,2.96,-25],['200',-71,2.97,-25],['80',-33,2.97,0],['0',-11,2.97,0],['40',9,2.97,0],['280',29,2.96,0],['180',30,2.95,0]]
const windLabels = [['40',-62,1,-70],['16',-77,1.22,-85],['24',-71,1.46,-75],['32',-60,1.55,-60],['8',18,.62,-90],['8',66,2,0],['0',-81,2.86,0],['0',-24,2.85,40],['8',-64,2.77,45],['32',-39,2.37,0],['16',22,2.4,-40],['24',30,2.38,-20]]
const ageLabels = [['42',-66,.82,-85],['36',31,1.02,-70],['30',34,1.49,-45],['24',38,1.68,-45],['18',-46,1.95,55],['12',38,2.02,-60],['6',-88,2.38,0],['0',-66,2.97,0],['0',-8,2.97,0]]
const waterLabels = [['0',-66,2.97,0],['500',-17,2.97,0],['1000',-10,2.97,0],['1500',0,2.97,0],['750',33,2.94,-15],['2500',42,2.96,0]]

const panels = [
 {base:5,fill:fillA,hatch:hatchA,dash:tropDashedHigh},{base:4,fill:fillB,hatch:hatchB,dash:tropDashedHigh},{base:4,fill:fillC,hatch:hatchC,dash:tropDashedLow},{base:4,fill:fillD,hatch:hatchD,dash:tropDashedLow},
 {base:5,fill:fillE,hatch:hatchE,dash:tropDashedHigh},{base:4,fill:fillF,hatch:hatchF,dash:tropDashedHigh},{base:4,fill:fillG,hatch:hatchG,dash:tropDashedLow},{base:4,fill:fillH,hatch:hatchH,dash:tropDashedLow},
 {base:1,fill:fillI,hatch:hatchAgeBottom,dash:tropDashedHigh},{base:4,fill:fillJ,hatch:hatchJ,dash:tropDashedHigh},{base:7,fill:fillK,hatch:hatchAgeBottom,dash:tropDashedLow},{base:9,fill:fillL,hatch:hatchAgeBottom,dash:tropDashedLow},
 {base:7,fill:fillM,hatch:[],dash:tropDashedHigh},{base:5,fill:fillN,hatch:[],dash:tropDashedHigh},{base:4,fill:fillO,hatch:[],dash:tropDashedLow},{base:4,fill:fillP,hatch:[],dash:tropDashedLow}
]
const rows = [
 {palette:redBlue,ticks:tempTicks,contours:tempContours,thick:tempThick,labels:tempLabels},
 {palette:redBlue,ticks:windTicks,contours:windContours,thick:null,labels:windLabels},
 {palette:redBlue,ticks:ageTicks,contours:ageContours,thick:null,labels:ageLabels},
 {palette:brownPurple,ticks:waterTicks,contours:waterContours,thick:waterThick,labels:waterLabels}
]

const colX = [71, 473, 874, 1275]
const rowY = [102, 530, 963, 1399]
const panelW = 322, panelH = 319
const textColor = '#2b2b2b'
const fontFamily = '"DejaVu Sans", sans-serif'
const fontSize = 22.5

function toPoints(flat) {
  let out = []
  for (let i = 0; i < flat.length; i += 2) out.push([flat[i], Math.pow(10, flat[i + 1])])
  return out
}

function hatchPattern() {
  let size = 5
  let c = document.createElement('canvas')
  c.width = size
  c.height = size
  let ctx = c.getContext('2d')
  ctx.strokeStyle = 'rgba(60,65,70,0.42)'
  ctx.lineWidth = 1.1
  ctx.beginPath()
  ctx.moveTo(-1, size + 1)
  ctx.lineTo(size + 1, -1)
  ctx.moveTo(-1, 1)
  ctx.lineTo(1, -1)
  ctx.moveTo(size - 1, size + 1)
  ctx.lineTo(size + 1, size - 1)
  ctx.stroke()
  return {image: c, repeat: 'repeat'}
}
const hatchFill = hatchPattern()

let grid = [], xAxis = [], yAxis = [], series = [], title = []

columnTitles.forEach((t, i) => {
  title.push({text: t, left: colX[i] + [161, 158, 153, 160][i], top: 8, padding: 0, textAlign: 'center', textStyle: {fontSize, fontWeight: 'normal', color: textColor, fontFamily}})
})
rowTitles.forEach((t, i) => {
  title.push({text: t, left: 829, top: rowY[i] - [49, 46, 49, 49][i], padding: 0, textAlign: 'center', textStyle: {fontSize, fontWeight: 'normal', color: textColor, fontFamily}})
})

panels.forEach((panel, n) => {
  let r = Math.floor(n / 4), c = n % 4
  let row = rows[r]
  let left = colX[c], top = rowY[r]
  let idx = grid.length
  grid.push({left, top, width: panelW, height: panelH + (r === 3 ? 2 : 0), show: true, backgroundColor: row.palette[panel.base], borderWidth: 0})
  xAxis.push({
    type: 'value', gridIndex: idx, min: -90, max: 90, splitLine: {show: false},
    name: 'Latitude [°N]', nameLocation: 'middle', nameGap: 28,
    nameTextStyle: {fontSize, color: textColor, fontFamily},
    axisLine: {show: false}, axisTick: {show: false},
    axisLabel: {customValues: latTicks, margin: 3, fontSize, color: textColor, fontFamily, formatter: v => String(v).replace('-', '−')}
  })
  yAxis.push({
    type: 'log', logBase: 10, gridIndex: idx, inverse: true, min: 1, max: 1000, splitLine: {show: false},
    name: 'Pressure [hPa]', nameLocation: 'middle', nameGap: 42,
    nameTextStyle: {fontSize, color: textColor, fontFamily},
    axisLine: {show: false}, axisTick: {show: false}, minorTick: {show: false},
    axisLabel: {
      customValues: pressureTicks, margin: 3, color: textColor, fontFamily, padding: [5, 0, 0, 0],
      formatter: v => '{b|10}{s|' + Math.round(Math.log10(v)) + '}',
      rich: {b: {fontSize, color: textColor, fontFamily, lineHeight: 26}, s: {fontSize: 15.5, color: textColor, fontFamily, verticalAlign: 'top', lineHeight: 18}}
    }
  })
  title.push({text: panelLetters[n], left: left + 1, top: top - 23, padding: 0, textStyle: {fontSize, fontWeight: 'normal', color: textColor, fontFamily}})

  let shapes = panel.fill.map(f => ({points: f[1], fill: row.palette[f[0]]}))
    .concat(panel.hatch.map(h => ({points: h, fill: hatchFill})))
  series.push({
    type: 'custom', xAxisIndex: idx, yAxisIndex: idx, clip: true, silent: true, z: 2,
    data: shapes.map(() => [0, 10]),
    renderItem: (params, api) => {
      let s = shapes[params.dataIndex]
      return {type: 'polygon', shape: {points: toPoints(s.points).map(p => api.coord(p)), smooth: 0.35}, style: {fill: s.fill}}
    }
  })
  row.contours.forEach(line => {
    series.push({type: 'line', xAxisIndex: idx, yAxisIndex: idx, data: toPoints(line), showSymbol: false, smooth: 0.35, silent: true, z: 3, lineStyle: {color: '#333', width: 1.2, opacity: 0.75}})
  })
  if (row.thick) {
    series.push({type: 'line', xAxisIndex: idx, yAxisIndex: idx, data: toPoints(row.thick), showSymbol: false, smooth: 0.2, silent: true, z: 4, lineStyle: {color: '#111', width: 2.6}})
  }
  series.push({type: 'line', xAxisIndex: idx, yAxisIndex: idx, data: toPoints(tropSolid), showSymbol: false, smooth: 0.3, silent: true, z: 4, lineStyle: {color: '#000', width: 3}})
  series.push({type: 'line', xAxisIndex: idx, yAxisIndex: idx, data: toPoints(panel.dash), showSymbol: false, smooth: 0.3, silent: true, z: 4, lineStyle: {color: '#000', width: 2.8, type: [7, 4]}})
  series.push({
    type: 'scatter', xAxisIndex: idx, yAxisIndex: idx, symbolSize: 0, silent: true, z: 5,
    data: row.labels.map(l => ({value: [l[1], Math.pow(10, l[2])], label: {rotate: l[3], formatter: l[0]}})),
    label: {show: true, position: 'inside', fontSize: 13.5, color: '#2a2a2a', fontFamily}
  })
  series.push({
    type: 'line', xAxisIndex: idx, yAxisIndex: idx, clip: false, showSymbol: false, silent: true, z: 6,
    data: [[-90, 1], [90, 1], [90, 1000], [-90, 1000], [-90, 1]], lineStyle: {color: '#666', width: 1.2}
  })
})

// colour bars
rows.forEach((row, r) => {
  let idx = grid.length
  grid.push({left: 1617, top: rowY[r] + 15, width: 39, height: panelH - 30 + (r === 3 ? 2 : 0)})
  xAxis.push({type: 'value', gridIndex: idx, min: 0, max: 1, show: false})
  yAxis.push({
    type: 'value', gridIndex: idx, position: 'right', min: 0, max: 10, interval: 1, splitLine: {show: false},
    axisLine: {show: false}, axisTick: {show: false},
    axisLabel: {margin: 3, fontSize, color: textColor, fontFamily, padding: [4, 0, 0, 0], formatter: v => row.ticks[v]}
  })
  let bands = row.palette.slice(0, 10)
  series.push({
    type: 'custom', xAxisIndex: idx, yAxisIndex: idx, silent: true, clip: false,
    data: bands.map((b, i) => [0, i]),
    renderItem: (params, api) => {
      let i = params.dataIndex
      let corners = [[0, i], [1, i], [1, i + 1], [0, i + 1]]
      return {type: 'polygon', shape: {points: corners.map(p => api.coord(p))}, style: {fill: bands[i], stroke: bands[i], lineWidth: 0.5}}
    }
  })
  series.push({
    type: 'custom', xAxisIndex: idx, yAxisIndex: idx, silent: true, clip: false,
    data: [[0, 10], [0, 0]],
    renderItem: (params, api) => {
      let top = params.dataIndex === 0
      let tip = top ? 10.52 : -0.52
      let base = top ? 10 : 0
      let corners = [[0, base], [1, base], [0.5, tip]]
      return {type: 'polygon', shape: {points: corners.map(p => api.coord(p))}, style: {fill: row.palette[top ? 10 : 11]}}
    }
  })
})

let myChart = echarts.init(document.getElementById('chart'), null, {renderer: 'canvas'})
myChart.setOption({animation: false, backgroundColor: '#fff', title, grid, xAxis, yAxis, series})
</script>
</body>
</html>
